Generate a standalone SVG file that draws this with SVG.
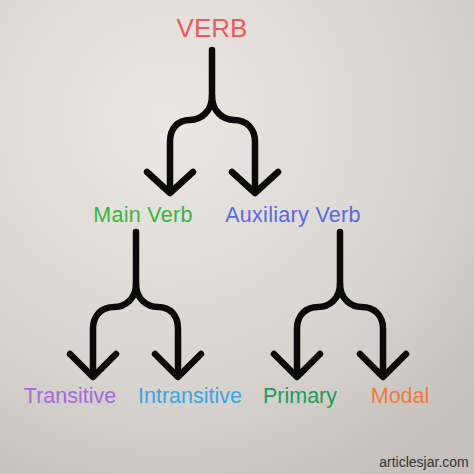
<svg xmlns="http://www.w3.org/2000/svg" width="474" height="474" viewBox="0 0 474 474">
<defs>
<radialGradient id="bg" cx="0.35" cy="0.25" r="0.9">
<stop offset="0" stop-color="#ebe8e4"/>
<stop offset="0.6" stop-color="#d9d5d1"/>
<stop offset="1" stop-color="#c3bfba"/>
</radialGradient>
<style>
.ln{fill:none;stroke:#0a0a0a;stroke-width:6.5;stroke-linecap:round;stroke-linejoin:round}
.t{font-family:"Liberation Sans",Arial,sans-serif;text-anchor:middle}
</style>
</defs>
<rect width="474" height="474" fill="url(#bg)"/>
<g id="connectors">
<path class="ln" d="M212,50 V96 C212,111 201,120 190,120 C178,120 170,128 170,142 V192"/>
<path class="ln" d="M212,96 C212,111 223,120 234,120 C246,120 255,128 255,142 V192"/>
<path class="ln" d="M147,172 L170,193 L193,172"/>
<path class="ln" d="M232,172 L255,193 L278,172"/>
<path class="ln" d="M136,232 V284 C136,299 125,307 114,307 C102,307 93,315 93,329 V376"/>
<path class="ln" d="M136,284 C136,299 147,307 158,307 C170,307 178,315 178,329 V376"/>
<path class="ln" d="M70,354 L93,377 L116,354"/>
<path class="ln" d="M155,354 L178,377 L201,354"/>
<path class="ln" d="M340,232 V284 C340,299 329,307 318,307 C306,307 297,315 297,329 V376"/>
<path class="ln" d="M340,284 C340,299 351,307 362,307 C374,307 383,315 383,329 V376"/>
<path class="ln" d="M274,354 L297,377 L320,354"/>
<path class="ln" d="M360,354 L383,377 L406,354"/>
</g>
<g id="verb"><text class="t" x="212" y="37" font-size="26" fill="#ef5a5c">VERB</text></g>
<g id="main-verb"><text class="t" x="143" y="222" font-size="21.5" letter-spacing="0.3" fill="#3bb33b">Main Verb</text></g>
<g id="auxiliary-verb"><text class="t" x="293" y="222" font-size="21.5" letter-spacing="0.3" fill="#5a6ae0">Auxiliary Verb</text></g>
<g id="transitive"><text class="t" x="70" y="403" font-size="21.5" fill="#a569dc">Transitive</text></g>
<g id="intransitive"><text class="t" x="190" y="403" font-size="21.5" fill="#3aa4e2">Intransitive</text></g>
<g id="primary"><text class="t" x="300" y="403" font-size="21.5" fill="#1e9a5c">Primary</text></g>
<g id="modal"><text class="t" x="400" y="403" font-size="21.5" fill="#f07a3c">Modal</text></g>
<text class="t" x="424" y="467" font-size="14" fill="#333">articlesjar.com</text>
</svg>
